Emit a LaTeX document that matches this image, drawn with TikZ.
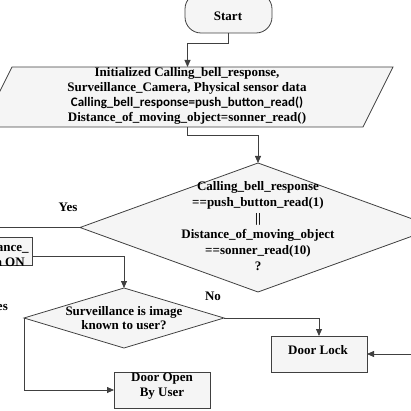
\documentclass[tikz,border=0pt]{standalone}
\usepackage{fontspec}
\setmainfont{Liberation Serif}
\newfontfamily\calfont{Carlito}
\usetikzlibrary{shapes.geometric,arrows.meta}
\definecolor{linegray}{HTML}{404040}
\definecolor{boxfill}{HTML}{F5F5F5}
\begin{document}
\begin{tikzpicture}[x=1pt,y=-1pt,
 line/.style={draw=linegray, line width=0.8pt},
 arr/.style={line, -{Triangle[length=7pt,width=6pt]}},
 box/.style={draw=linegray, line width=0.8pt, fill=boxfill, rectangle, inner sep=0pt, outer sep=0pt},
 dia/.style={draw=linegray, line width=0.8pt, fill=boxfill, diamond, inner sep=0pt, outer sep=0pt},
 txt/.style={font=\fontsize{13}{15}\selectfont\bfseries, align=center, inner sep=0pt}
]
\useasboundingbox (0,0) rectangle (411,411);
\clip (0,0) rectangle (411,411);

% Start
\node[box, rounded corners=16pt, minimum width=87pt, minimum height=40pt] (start) at (228.5,13) {};
\node[txt] (startt) at (228,16) {Start};

% Init parallelogram
\node[minimum width=381pt, minimum height=60pt, inner sep=0pt, outer sep=0pt] (init) at (187.5,97) {};
\filldraw[line, fill=boxfill] ([xshift=15pt]init.north west) -- ([xshift=15pt]init.north east) -- ([xshift=-15pt]init.south east) -- ([xshift=-15pt]init.south west) -- cycle;
\node[txt] (initt) at (187,96) {Initialized Calling\_bell\_response,\\ Surveillance\_Camera, Physical sensor data\\ {\calfont Calling\_bell\_response=push\_button\_read()}\\ Distance\_of\_moving\_object=sonner\_read()};

% Big decision
\node[dia, minimum width=356pt, minimum height=129pt] (d1) at (258,227.5) {};
\node[txt, font=\fontsize{13}{16}\selectfont\bfseries] (d1t) at (258,226.5) {Calling\_bell\_response\\ ==push\_button\_read(1)\\ ||\\ Distance\_of\_moving\_object\\ ==sonner\_read(10)\\ ?};
\node[txt] (yes1) at (68,207) {Yes};
\coordinate (yesend) at (-5,227.5);

% Camera box (partly off picture)
\node[box, minimum width=110pt, minimum height=28pt, anchor=east] (cam) at (32,251.5) {};
\node[txt] (camt) at (-9,255) {Surveillance\_\\Camera ON};

% Small decision
\node[dia, minimum width=200pt, minimum height=60pt] (d2) at (124,318) {};
\node[txt, font=\fontsize{13}{14}\selectfont\bfseries] (d2t) at (124,318) {Surveillance is image\\ known to user?};
\node[txt, anchor=east] (yes2) at (8,306) {Yes};
\node[txt] (no) at (213,296) {No};

% Door lock & door open
\node[box, minimum width=96pt, minimum height=36pt] (lock) at (319,354) {};
\node[txt] (lockt) at (318,350) {Door Lock};
\node[box, minimum width=96pt, minimum height=36pt] (open) at (162,390) {};
\node[txt] (opent) at (162,386) {Door Open\\By User};
\coordinate (rin) at (415,354);

% Connectors
\draw[arr] (start.south) -- ++(0,10) -| (init.north);
\draw[arr] (init.south) -- ++(0,8) -| (d1.north);
\draw[line] (d1.west) -- (yesend);
\draw[arr] ([yshift=-5pt]cam.east) -| (d2.north);
\draw[arr] (d2.east) -| (lock.north);
\draw[arr] (d2.west) |- (open.west);
\draw[arr] (rin) -- (lock.east);
\end{tikzpicture}
\end{document}
